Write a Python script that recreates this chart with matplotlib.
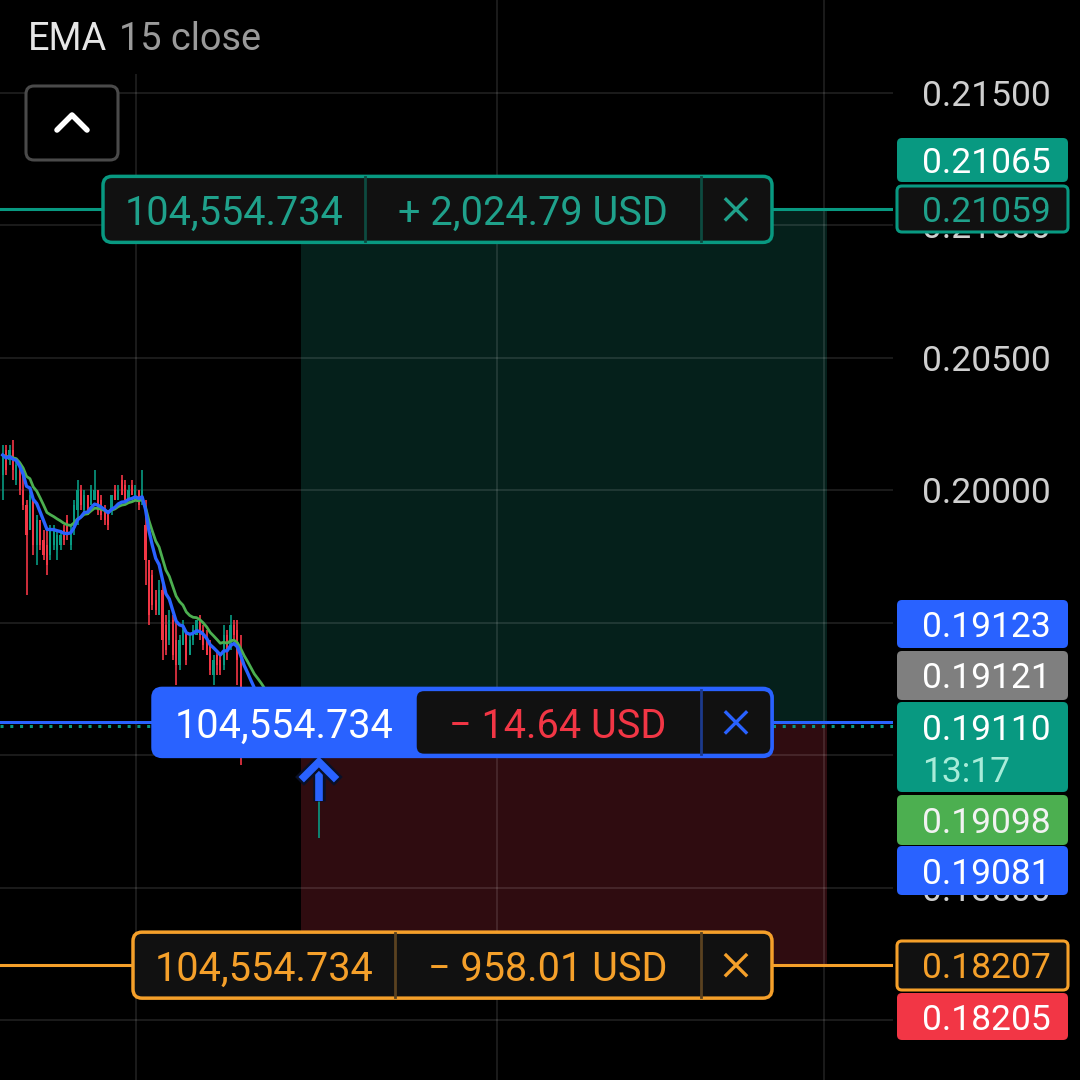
import numpy as np
import pandas as pd
import matplotlib
matplotlib.use("Agg")
import matplotlib.pyplot as plt
import matplotlib.patheffects as pe
from matplotlib.patches import FancyBboxPatch, Rectangle

plt.rcParams["font.family"] = ["Roboto", "DejaVu Sans"]

# ---- candle data ----
opens = [0.20057, 0.20151, 0.20113, 0.20151, 0.20038, 0.20094, 0.20000, 0.19943, 0.19849, 0.19962,
         0.19792, 0.19887, 0.19811, 0.19792, 0.19755, 0.19792, 0.19774, 0.19792, 0.19849, 0.19887,
         0.19792, 0.19849, 0.19925, 0.20000, 0.19925, 0.19981, 0.19943, 0.19962, 0.20000, 0.19962,
         0.19925, 0.19925, 0.19925, 0.20000, 0.19962, 0.20038, 0.20019, 0.19962, 0.20019, 0.19981,
         0.20000, 0.19962, 0.19868, 0.19736, 0.19679, 0.19585, 0.19528, 0.19623, 0.19491, 0.19434,
         0.19509, 0.19434, 0.19340, 0.19415, 0.19472, 0.19377, 0.19434, 0.19453, 0.19509, 0.19472,
         0.19434, 0.19415, 0.19302, 0.19377, 0.19358, 0.19340, 0.19453, 0.19415, 0.19491, 0.19472,
         0.19377, 0.19235, 0.19190, 0.19200, 0.19165, 0.19140, 0.19170, 0.19150, 0.19115, 0.19135,
         0.19090, 0.19105, 0.19120, 0.19070, 0.19055, 0.19075, 0.19045, 0.19060, 0.19050, 0.19085,
         0.19060, 0.19080, 0.19070, 0.19105]
highs = [0.20170, 0.20170, 0.20170, 0.20189, 0.20113, 0.20094, 0.20075, 0.19962, 0.20000, 0.19962,
         0.19906, 0.19887, 0.19849, 0.19849, 0.19868, 0.19868, 0.19849, 0.19849, 0.19868, 0.19906,
         0.19868, 0.19962, 0.20038, 0.20019, 0.20000, 0.19981, 0.20019, 0.20075, 0.20000, 0.19981,
         0.19943, 0.19925, 0.19981, 0.20019, 0.20019, 0.20057, 0.20038, 0.20019, 0.20038, 0.20019,
         0.20000, 0.20075, 0.19962, 0.19736, 0.19698, 0.19623, 0.19660, 0.19642, 0.19528, 0.19547,
         0.19528, 0.19509, 0.19453, 0.19509, 0.19472, 0.19453, 0.19491, 0.19509, 0.19528, 0.19491,
         0.19472, 0.19434, 0.19377, 0.19396, 0.19377, 0.19491, 0.19472, 0.19528, 0.19509, 0.19509,
         0.19453, 0.19238, 0.19220, 0.19225, 0.19190, 0.19180, 0.19195, 0.19160, 0.19150, 0.19145,
         0.19120, 0.19130, 0.19125, 0.19095, 0.19085, 0.19090, 0.19070, 0.19080, 0.19090, 0.19100,
         0.19095, 0.19110, 0.19125, 0.19123]
lows = [0.19962, 0.20057, 0.20094, 0.20038, 0.20019, 0.19981, 0.19925, 0.19604, 0.19849, 0.19755,
        0.19717, 0.19774, 0.19736, 0.19679, 0.19736, 0.19774, 0.19736, 0.19774, 0.19792, 0.19811,
        0.19774, 0.19830, 0.19868, 0.19925, 0.19906, 0.19906, 0.19943, 0.19962, 0.19906, 0.19887,
        0.19868, 0.19849, 0.19906, 0.19962, 0.19962, 0.19981, 0.19962, 0.19962, 0.19981, 0.19962,
        0.19925, 0.19943, 0.19642, 0.19491, 0.19547, 0.19528, 0.19528, 0.19358, 0.19377, 0.19415,
        0.19358, 0.19264, 0.19321, 0.19415, 0.19340, 0.19377, 0.19415, 0.19453, 0.19434, 0.19396,
        0.19377, 0.19302, 0.19264, 0.19302, 0.19302, 0.19321, 0.19358, 0.19396, 0.19434, 0.19264,
        0.18962, 0.19170, 0.19160, 0.19150, 0.19120, 0.19130, 0.19140, 0.19100, 0.19095, 0.19080,
        0.19070, 0.19085, 0.19060, 0.19040, 0.19030, 0.19035, 0.19025, 0.19035, 0.19040, 0.19045,
        0.19050, 0.19060, 0.19060, 0.18687]
closes = [0.20132, 0.20075, 0.20151, 0.20075, 0.20094, 0.20000, 0.19943, 0.19830, 0.19981, 0.19792,
          0.19887, 0.19792, 0.19755, 0.19717, 0.19849, 0.19849, 0.19830, 0.19830, 0.19811, 0.19830,
          0.19849, 0.19943, 0.20000, 0.19943, 0.19981, 0.19925, 0.20000, 0.20000, 0.19925, 0.19906,
          0.19887, 0.19868, 0.19981, 0.19962, 0.20000, 0.19981, 0.19962, 0.20000, 0.19981, 0.20000,
          0.19943, 0.20000, 0.19736, 0.19528, 0.19566, 0.19547, 0.19623, 0.19434, 0.19396, 0.19509,
          0.19377, 0.19340, 0.19434, 0.19472, 0.19358, 0.19434, 0.19472, 0.19509, 0.19453, 0.19415,
          0.19377, 0.19321, 0.19358, 0.19340, 0.19321, 0.19453, 0.19396, 0.19491, 0.19453, 0.19358,
          0.19245, 0.19190, 0.19200, 0.19165, 0.19140, 0.19170, 0.19150, 0.19115, 0.19135, 0.19090,
          0.19105, 0.19120, 0.19070, 0.19055, 0.19075, 0.19045, 0.19060, 0.19050, 0.19085, 0.19060,
          0.19080, 0.19070, 0.19115, 0.19110]

ema_fast_span = 9
ema_slow_span = 15

# position
take_profit = 0.21059
entry_price = 0.19123
stop_loss = 0.18207
last_price = 0.19110
quantity = "104,554.734"
tp_pnl = "+ 2,024.79 USD"
open_pnl = "\u2212 14.64 USD"
sl_pnl = "\u2212 958.01 USD"
entry_bar = 93
zone_start, zone_end = 87.7, 242.5

price_ticks = [0.180, 0.185, 0.190, 0.195, 0.200, 0.205, 0.210, 0.215]
covered_ticks = [0.180, 0.190, 0.195]   # sit fully under the stacked price labels
time_grid = [39.2, 145.4, 241.6]

scale_values = [0.21065, 0.21059, 0.19123, 0.19121, 0.19110, 0.19098, 0.19081, 0.18207, 0.18205]
countdown = "13:17"

# ---- colours ----
BG = "#000000"
UP = "#089981"
DOWN = "#f23645"
BLUE = "#2962ff"
TEAL_TXT = "#1fa18b"
ORANGE = "#f5a02a"
GREEN = "#4caf50"
BOX_BG = "#111111"

fig = plt.figure(figsize=(10.8, 10.8), dpi=100, facecolor=BG)
ax = fig.add_axes([0, 0, 893 / 1080, 1])
ax.set_facecolor(BG)
ax.set_xlim(-0.8, 261.85)
ax.set_ylim(0.177736, 0.218491)
for s in ax.spines.values():
    s.set_visible(False)
ax.set_xticks([])
ax.yaxis.tick_right()
ax.set_yticks(price_ticks)
ax.set_yticklabels(["" if p in covered_ticks else f"{p:.5f}" for p in price_ticks])
ax.tick_params(axis="y", length=0, pad=21, labelsize=25.5, labelcolor="#cfcfcf")

grid_c = (1, 1, 1, 0.11)
for p in price_ticks:
    ax.axhline(p, color=grid_c, lw=1.4, zorder=1)
for t in time_grid:
    ax.axvline(t, color=grid_c, lw=1.4, zorder=1)

# profit / loss zones
ax.add_patch(Rectangle((zone_start, entry_price), zone_end - zone_start, take_profit - entry_price,
                       fc="#05201b", lw=0, zorder=0.5))
ax.add_patch(Rectangle((zone_start, stop_loss), zone_end - zone_start, entry_price - stop_loss,
                       fc="#2f0c10", lw=0, zorder=0.5))

# order / price lines
ax.axhline(take_profit, color=UP, lw=2.2, zorder=3)
ax.axhline(stop_loss, color=ORANGE, lw=2.2, zorder=3)
ax.axhline(entry_price, color=BLUE, lw=2.2, zorder=3)
ax.axhline(last_price, color=UP, lw=2.2, ls=(0, (1, 2.2)), zorder=3)

# candles
o = np.array(opens); h = np.array(highs); l = np.array(lows); c = np.array(closes)
idx = np.arange(len(c))
cols = np.where(c >= o, UP, DOWN)
ax.vlines(idx, l, h, colors=cols, lw=1.2, zorder=4)
body = np.maximum(np.abs(c - o), 0.00004)
ax.bar(idx, body, bottom=np.minimum(o, c), width=0.62, color=cols, lw=0, zorder=4)

# EMAs
ema_fast = pd.Series(closes).ewm(span=ema_fast_span, adjust=False).mean()
ema_slow = pd.Series(closes).ewm(span=ema_slow_span, adjust=False).mean()
ax.plot(idx, ema_slow, color=GREEN, lw=2.0, zorder=5)
ax.plot(idx, ema_fast, color=BLUE, lw=2.4, zorder=6)

# ---- overlay in pixel space ----
ov = fig.add_axes([0, 0, 1, 1])
ov.set_xlim(0, 1080)
ov.set_ylim(1080, 0)
ov.axis("off")
ov.patch.set_alpha(0)


def ypx(price):
    return 1080 - ax.transData.transform((0, price))[1]


def xpx(i):
    return ax.transData.transform((i, 0))[0]


def rbox(x0, y0, x1, y1, fc, ec="none", lw=0, r=9, z=10):
    ov.add_patch(FancyBboxPatch((x0, y0), x1 - x0, y1 - y0,
                                boxstyle=f"round,pad=0,rounding_size={r}",
                                fc=fc, ec=ec, lw=lw, zorder=z))


def close_mark(cx, cy, color):
    d = 10
    ov.plot([cx - d, cx + d], [cy - d, cy + d], color=color, lw=2.4, zorder=13)
    ov.plot([cx - d, cx + d], [cy + d, cy - d], color=color, lw=2.4, zorder=13)


FS = 28.5
# take profit box
y = ypx(take_profit)
rbox(103, y - 33, 772, y + 33, BOX_BG, UP, 2.5)
for xd in (365, 701):
    ov.plot([xd, xd], [y - 32, y + 32], color="#0d4a40", lw=2, zorder=12)
ov.text(234, y, quantity, color=TEAL_TXT, fontsize=FS, ha="center", va="center_baseline", zorder=13)
ov.text(533, y, tp_pnl, color=TEAL_TXT, fontsize=FS, ha="center", va="center_baseline", zorder=13)
close_mark(736, y, TEAL_TXT)

# entry box
y = ypx(entry_price)
rbox(153, y - 34, 772, y + 34, BLUE, BLUE, 2.5)
rbox(415, y - 33, 772, y + 33, BOX_BG, BLUE, 2.5, z=11)
ov.plot([701, 701], [y - 32, y + 32], color="#1c3a8c", lw=2, zorder=12)
ov.text(284, y, quantity, color="white", fontsize=FS, ha="center", va="center_baseline", zorder=13)
ov.text(558, y, open_pnl, color=DOWN, fontsize=FS, ha="center", va="center_baseline", zorder=13)
close_mark(736, y, BLUE)

# stop loss box
y = ypx(stop_loss)
rbox(133, y - 33, 772, y + 33, BOX_BG, ORANGE, 2.5)
for xd in (395, 701):
    ov.plot([xd, xd], [y - 32, y + 32], color="#5a4220", lw=2, zorder=12)
ov.text(264, y, quantity, color=ORANGE, fontsize=FS, ha="center", va="center_baseline", zorder=13)
ov.text(548, y, sl_pnl, color=ORANGE, fontsize=FS, ha="center", va="center_baseline", zorder=13)
close_mark(736, y, ORANGE)

# buy arrow on the entry bar
ax_x = xpx(entry_bar)
stroke = [pe.withStroke(linewidth=9, foreground="#0a1026")]
ov.plot([ax_x, ax_x], [764, 801], color=BLUE, lw=5.5, solid_capstyle="butt", zorder=9, path_effects=stroke)
ov.plot([ax_x - 15, ax_x, ax_x + 15], [777, 762, 777], color=BLUE, lw=5.5,
        solid_joinstyle="miter", zorder=9, path_effects=stroke)

# right scale labels (stacked)
label_slots = [(138, 182), (186, 232), (600, 648), (651, 700), (702, 792),
               (795, 845), (846, 895), (941, 990), (993, 1040)]
label_style = [(UP, "none", "white"), (BOX_BG, UP, TEAL_TXT), (BLUE, "none", "white"),
               ("#7f7f7f", "none", "white"), (UP, "none", "white"), (GREEN, "none", "#f2f2f2"),
               (BLUE, "none", "white"), (BOX_BG, ORANGE, ORANGE), (DOWN, "none", "white")]
for v, (t0, t1), (fc, ec, tc) in zip(scale_values, label_slots, label_style):
    rbox(897, t0, 1068, t1, fc, ec, 2.2 if ec != "none" else 0, r=5, z=14)
    if t1 - t0 > 60:
        ov.text(922, t0 + 25, f"{v:.5f}", color=tc, fontsize=25.5, ha="left", va="center_baseline", zorder=15)
        ov.text(922, t0 + 67, countdown, color="#a8ecd9", fontsize=25.5, ha="left", va="center_baseline", zorder=15)
    else:
        ov.text(922, (t0 + t1) / 2, f"{v:.5f}", color=tc, fontsize=25.5, ha="left", va="center_baseline", zorder=15)

# legend + collapse button (legend strip hides the grid behind it)
ov.add_patch(Rectangle((0, 0), 290, 74, fc=BG, lw=0, zorder=14))
ov.text(28, 36, "EMA", color="#e6e6e6", fontsize=27.3, ha="left", va="center_baseline", zorder=15)
ov.text(119, 36, "15 close", color="#9a9a9a", fontsize=27.3, ha="left", va="center_baseline", zorder=15)
rbox(26, 86, 118, 160, BG, "#4a4a4a", 2.2, r=8, z=15)
ov.plot([57, 72, 87], [130, 115, 130], color="white", lw=4, solid_capstyle="round", zorder=16)

fig.savefig("out.png", dpi=100, facecolor=BG)
